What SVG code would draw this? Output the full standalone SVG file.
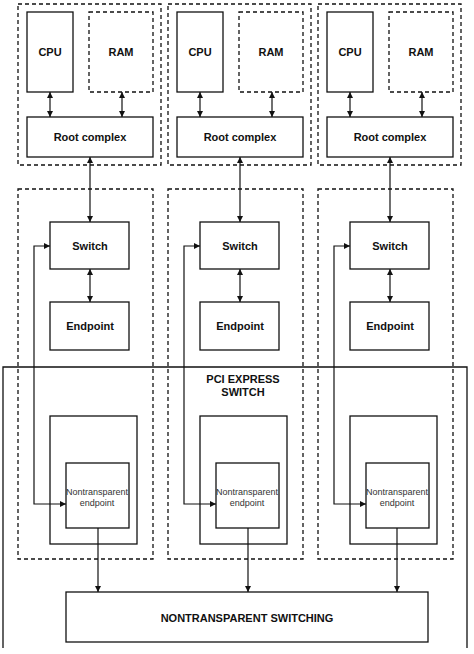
<svg xmlns="http://www.w3.org/2000/svg" width="474" height="654" viewBox="0 0 474 654">
<style>
.bx{fill:none;stroke:#111;stroke-width:1.3}
.ds{fill:none;stroke:#111;stroke-width:1.3;stroke-dasharray:4 3}
.ln{fill:none;stroke:#111;stroke-width:1.2}
.t{font-family:"Liberation Sans",Arial,sans-serif;font-size:11px;font-weight:bold;fill:#111;text-anchor:middle}
.s{font-family:"Liberation Sans",Arial,sans-serif;font-size:9px;fill:#333;text-anchor:middle}
</style>
<defs>
<marker id="ah" viewBox="0 0 10 10" refX="10" refY="5" markerWidth="6" markerHeight="6" orient="auto-start-reverse" markerUnits="userSpaceOnUse">
<path d="M0,0 L10,5 L0,10 z" fill="#111"/>
</marker>
</defs>
<rect width="474" height="654" fill="#fff"/>
<g id="pcie-switch">
<path class="bx" d="M3,648 V367 H467 V648"/>
<text class="t" x="243" y="383">PCI EXPRESS</text>
<text class="t" x="243" y="396">SWITCH</text>
</g>
<g id="host1">
<rect class="ds" x="18" y="4" width="143" height="161"/>
<rect class="bx" x="27" y="12" width="46" height="80"/><text class="t" x="50" y="56">CPU</text>
<rect class="ds" x="89" y="12" width="64" height="80"/><text class="t" x="121" y="56">RAM</text>
<rect class="bx" x="27" y="117" width="126" height="40"/><text class="t" x="90" y="141">Root complex</text>
</g>
<g id="host2">
<rect class="ds" x="168" y="4" width="143" height="161"/>
<rect class="bx" x="177" y="12" width="46" height="80"/><text class="t" x="200" y="56">CPU</text>
<rect class="ds" x="239" y="12" width="64" height="80"/><text class="t" x="271" y="56">RAM</text>
<rect class="bx" x="177" y="117" width="126" height="40"/><text class="t" x="240" y="141">Root complex</text>
</g>
<g id="host3">
<rect class="ds" x="318" y="4" width="143" height="161"/>
<rect class="bx" x="327" y="12" width="46" height="80"/><text class="t" x="350" y="56">CPU</text>
<rect class="ds" x="389" y="12" width="64" height="80"/><text class="t" x="421" y="56">RAM</text>
<rect class="bx" x="327" y="117" width="126" height="40"/><text class="t" x="390" y="141">Root complex</text>
</g>
<g id="domain1">
<rect class="ds" x="18" y="189" width="135" height="370"/>
<rect class="bx" x="50" y="222" width="79" height="47"/><text class="t" x="90" y="250">Switch</text>
<rect class="bx" x="50" y="302" width="79" height="48"/><text class="t" x="90" y="330">Endpoint</text>
<rect class="bx" x="50" y="416" width="87" height="128"/>
<rect class="bx" x="66" y="463" width="63" height="65"/>
<text class="s" x="97" y="495">Nontransparent</text><text class="s" x="97" y="506">endpoint</text>
</g>
<g id="domain2">
<rect class="ds" x="168" y="189" width="135" height="370"/>
<rect class="bx" x="200" y="222" width="79" height="47"/><text class="t" x="240" y="250">Switch</text>
<rect class="bx" x="200" y="302" width="79" height="48"/><text class="t" x="240" y="330">Endpoint</text>
<rect class="bx" x="200" y="416" width="87" height="128"/>
<rect class="bx" x="216" y="463" width="63" height="65"/>
<text class="s" x="247" y="495">Nontransparent</text><text class="s" x="247" y="506">endpoint</text>
</g>
<g id="domain3">
<rect class="ds" x="318" y="189" width="135" height="370"/>
<rect class="bx" x="350" y="222" width="79" height="47"/><text class="t" x="390" y="250">Switch</text>
<rect class="bx" x="350" y="302" width="79" height="48"/><text class="t" x="390" y="330">Endpoint</text>
<rect class="bx" x="350" y="416" width="87" height="128"/>
<rect class="bx" x="366" y="463" width="63" height="65"/>
<text class="s" x="397" y="495">Nontransparent</text><text class="s" x="397" y="506">endpoint</text>
</g>
<g id="nt-switching">
<rect class="bx" x="66" y="592" width="362" height="50"/>
<text class="t" x="247" y="622">NONTRANSPARENT SWITCHING</text>
</g>
<g id="connectors">
<line class="ln" x1="50" y1="92" x2="50" y2="117" marker-start="url(#ah)" marker-end="url(#ah)"/>
<line class="ln" x1="122" y1="92" x2="122" y2="117" marker-start="url(#ah)" marker-end="url(#ah)"/>
<line class="ln" x1="200" y1="92" x2="200" y2="117" marker-start="url(#ah)" marker-end="url(#ah)"/>
<line class="ln" x1="272" y1="92" x2="272" y2="117" marker-start="url(#ah)" marker-end="url(#ah)"/>
<line class="ln" x1="350" y1="92" x2="350" y2="117" marker-start="url(#ah)" marker-end="url(#ah)"/>
<line class="ln" x1="422" y1="92" x2="422" y2="117" marker-start="url(#ah)" marker-end="url(#ah)"/>
<line class="ln" x1="90" y1="157" x2="90" y2="222" marker-start="url(#ah)" marker-end="url(#ah)"/>
<line class="ln" x1="240" y1="157" x2="240" y2="222" marker-start="url(#ah)" marker-end="url(#ah)"/>
<line class="ln" x1="390" y1="157" x2="390" y2="222" marker-start="url(#ah)" marker-end="url(#ah)"/>
<line class="ln" x1="90" y1="269" x2="90" y2="302" marker-start="url(#ah)" marker-end="url(#ah)"/>
<line class="ln" x1="240" y1="269" x2="240" y2="302" marker-start="url(#ah)" marker-end="url(#ah)"/>
<line class="ln" x1="390" y1="269" x2="390" y2="302" marker-start="url(#ah)" marker-end="url(#ah)"/>
<path class="ln" d="M50,246 H34 V504 H66" marker-start="url(#ah)" marker-end="url(#ah)"/>
<path class="ln" d="M200,246 H184 V504 H216" marker-start="url(#ah)" marker-end="url(#ah)"/>
<path class="ln" d="M350,246 H334 V504 H366" marker-start="url(#ah)" marker-end="url(#ah)"/>
<line class="ln" x1="98" y1="528" x2="98" y2="592" marker-end="url(#ah)"/>
<line class="ln" x1="248" y1="528" x2="248" y2="592" marker-end="url(#ah)"/>
<line class="ln" x1="397" y1="528" x2="397" y2="592" marker-end="url(#ah)"/>
</g>
</svg>
